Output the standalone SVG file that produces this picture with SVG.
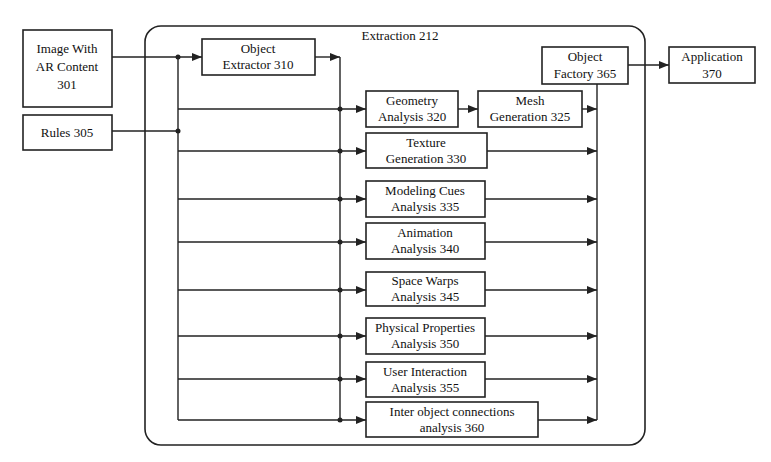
<svg xmlns="http://www.w3.org/2000/svg" width="771" height="462" viewBox="0 0 771 462">
<defs>
<marker id="ah" markerWidth="10" markerHeight="8" refX="10" refY="4" orient="auto" markerUnits="userSpaceOnUse"><path d="M0,0 L10,4 L0,8 Z" fill="#222"/></marker>
<style>
rect.b{fill:#fff;stroke:#222;stroke-width:1.6}
text{font-family:"Liberation Serif",serif;font-size:13px;fill:#111;text-anchor:middle}
.c line,.c polyline{stroke:#222;stroke-width:1.4;fill:none}
.c circle{fill:#222}
</style>
</defs>
<rect width="771" height="462" fill="#fff"/>
<g id="extraction"><rect x="145" y="26" width="500" height="419" rx="16" fill="none" stroke="#222" stroke-width="1.6"/><text x="400" y="40">Extraction 212</text></g>
<g class="c" id="connectors">
<line x1="112" y1="57" x2="202" y2="57" marker-end="url(#ah)"/>
<line x1="112" y1="131" x2="178" y2="131"/>
<line x1="178" y1="57" x2="178" y2="420"/>
<line x1="340" y1="57" x2="340" y2="420"/>
<line x1="315" y1="57" x2="340" y2="57" marker-end="url(#ah)"/>
<line x1="178" y1="109" x2="366" y2="109" marker-end="url(#ah)"/>
<line x1="458" y1="109" x2="478" y2="109" marker-end="url(#ah)"/>
<line x1="582" y1="109" x2="597" y2="109" marker-end="url(#ah)"/>
<line x1="178" y1="151" x2="366" y2="151" marker-end="url(#ah)"/>
<line x1="487" y1="151" x2="597" y2="151" marker-end="url(#ah)"/>
<line x1="178" y1="199" x2="366" y2="199" marker-end="url(#ah)"/>
<line x1="485" y1="199" x2="597" y2="199" marker-end="url(#ah)"/>
<line x1="178" y1="242" x2="366" y2="242" marker-end="url(#ah)"/>
<line x1="485" y1="242" x2="597" y2="242" marker-end="url(#ah)"/>
<line x1="178" y1="290" x2="366" y2="290" marker-end="url(#ah)"/>
<line x1="485" y1="290" x2="597" y2="290" marker-end="url(#ah)"/>
<line x1="178" y1="336" x2="366" y2="336" marker-end="url(#ah)"/>
<line x1="485" y1="336" x2="597" y2="336" marker-end="url(#ah)"/>
<line x1="178" y1="379" x2="366" y2="379" marker-end="url(#ah)"/>
<line x1="485" y1="379" x2="597" y2="379" marker-end="url(#ah)"/>
<line x1="178" y1="420" x2="366" y2="420" marker-end="url(#ah)"/>
<line x1="538" y1="420" x2="597" y2="420" marker-end="url(#ah)"/>
<line x1="597" y1="84" x2="597" y2="420"/>
<line x1="628" y1="65" x2="669" y2="65" marker-end="url(#ah)"/>
<circle cx="178" cy="57" r="2.5"/><circle cx="178" cy="131" r="2.5"/>
<circle cx="340" cy="109" r="2.5"/><circle cx="340" cy="151" r="2.5"/><circle cx="340" cy="199" r="2.5"/><circle cx="340" cy="242" r="2.5"/><circle cx="340" cy="290" r="2.5"/><circle cx="340" cy="336" r="2.5"/><circle cx="340" cy="379" r="2.5"/><circle cx="340" cy="420" r="2.5"/>
</g>
<g id="n301"><rect class="b" x="23" y="30" width="89" height="77"/><text x="67" y="53">Image With</text><text x="67" y="71">AR Content</text><text x="67" y="89">301</text></g>
<g id="n305"><rect class="b" x="23" y="115" width="89" height="35"/><text x="67" y="137">Rules 305</text></g>
<g id="n310"><rect class="b" x="202" y="39" width="113" height="36"/><text x="258" y="53">Object</text><text x="258" y="69">Extractor 310</text></g>
<g id="n320"><rect class="b" x="366" y="91" width="92" height="36"/><text x="412" y="105">Geometry</text><text x="412" y="121">Analysis 320</text></g>
<g id="n325"><rect class="b" x="478" y="91" width="104" height="36"/><text x="530" y="105">Mesh</text><text x="530" y="121">Generation 325</text></g>
<g id="n330"><rect class="b" x="366" y="133" width="121" height="35"/><text x="426" y="147">Texture</text><text x="426" y="163">Generation 330</text></g>
<g id="n335"><rect class="b" x="366" y="181" width="119" height="36"/><text x="425" y="195">Modeling Cues</text><text x="425" y="211">Analysis 335</text></g>
<g id="n340"><rect class="b" x="366" y="223" width="119" height="36"/><text x="425" y="237">Animation</text><text x="425" y="253">Analysis 340</text></g>
<g id="n345"><rect class="b" x="366" y="272" width="119" height="34"/><text x="425" y="285">Space Warps</text><text x="425" y="301">Analysis 345</text></g>
<g id="n350"><rect class="b" x="366" y="318" width="119" height="36"/><text x="425" y="332">Physical Properties</text><text x="425" y="348">Analysis 350</text></g>
<g id="n355"><rect class="b" x="366" y="362" width="119" height="35"/><text x="425" y="376">User Interaction</text><text x="425" y="392">Analysis 355</text></g>
<g id="n360"><rect class="b" x="366" y="402" width="172" height="35"/><text x="452" y="416">Inter object connections</text><text x="452" y="432">analysis 360</text></g>
<g id="n365"><rect class="b" x="542" y="47" width="86" height="37"/><text x="585" y="61">Object</text><text x="585" y="78">Factory 365</text></g>
<g id="n370"><rect class="b" x="669" y="47" width="86" height="36"/><text x="712" y="61">Application</text><text x="712" y="78">370</text></g>
</svg>
